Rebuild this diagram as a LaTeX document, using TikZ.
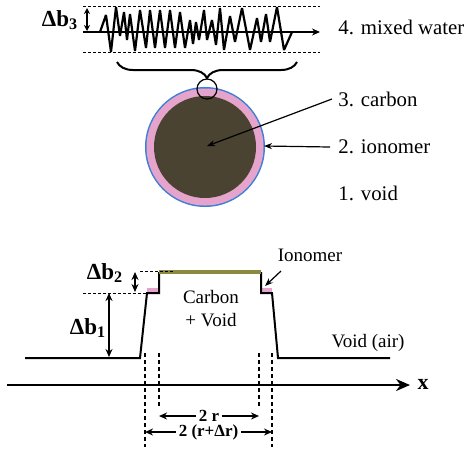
\documentclass[tikz,border=0pt]{standalone}
\usepackage{fontspec}
\setmainfont{Liberation Serif}
\usepackage{xcolor}
\usepackage{tikz}
\usetikzlibrary{arrows.meta, calc, decorations.pathreplacing}

\definecolor{carbonbrown}{HTML}{4A4331}
\definecolor{ionpink}{HTML}{E6A4CC}
\definecolor{voidblue}{HTML}{3F7FD4}
\definecolor{olivebar}{HTML}{8C8A3E}

\tikzset{
  lbl/.style={font=\fontsize{10.4}{12}\selectfont, anchor=west, inner sep=0pt},
  smalllbl/.style={font=\fontsize{9.5}{11.5}\selectfont, inner sep=0pt, align=center},
  deltalbl/.style={font=\fontsize{11.5}{13}\selectfont\bfseries, inner sep=0pt},
  dimlbl/.style={font=\fontsize{8.5}{10}\selectfont\bfseries, fill=white, inner sep=1.5pt},
  guide/.style={dash pattern=on 1.5pt off 1pt, line width=0.5pt},
  vguide/.style={dash pattern=on 2pt off 1.5pt, line width=0.6pt},
  profile/.style={line width=1pt},
  dimarrow/.style={{Stealth[length=4pt,width=3.5pt]}-{Stealth[length=4pt,width=3.5pt]}, line width=0.8pt},
  pointer/.style={-{Stealth[length=4pt,width=3pt]}, line width=0.6pt},
}

\begin{document}
\begin{tikzpicture}[x=0.5pt,y=-0.5pt]
  \useasboundingbox (0,0) rectangle (474,450);

  \draw[guide] (83,6) -- (320,6);
  \draw[guide] (83,52) -- (320,52);
  \draw[-{Stealth[length=4pt,width=3.5pt]}, line width=1pt] (83,32) -- (320,32);
  \draw[line width=1.1pt, line join=miter, miter limit=3] plot coordinates {
    (100,32) (106,15) (111,52) (116,7) (120,36) (124,12) (127,40) (130,14)
    (135,51) (140,10) (146,48) (150,10) (155,48) (160,10) (165,48) (170,10)
    (175,48) (180,12) (185,48) (190,20) (193,44) (196,22) (199,40) (204,10)
    (207,40) (212,20) (216,45) (220,8) (224,50) (230,16) (235,42) (242,8)
    (250,50) (257,18) (261,42) (266,14) (270,42) (277,7) (284,50) (292,32)};
  \draw[dimarrow, {Stealth[length=3pt,width=3pt]}-{Stealth[length=3pt,width=3pt]}] (87,8) -- (87,31);
  \node[deltalbl] (db3) at (60,20) {Δb\textsubscript{3}};
  \node[lbl] (mixed) at (338,27) {4. mixed water};

  \draw[line width=1pt, decorate, decoration={brace, amplitude=8pt}] (297,62) -- (117,62);

  \fill[voidblue] (205,147) circle (60);
  \fill[ionpink] (205,147) circle (58.5);
  \fill[carbonbrown] (205,147) circle (51);
  \node[circle, draw, line width=0.6pt, minimum size=10pt, inner sep=0pt] (zoomc) at (207,89) {};
  \coordinate (ctr) at (207,146);
  \coordinate (rim) at (264,146);

  \node[lbl] (carbon) at (338,99) {3. carbon};
  \node[lbl] (ionomer) at (338,147) {2. ionomer};
  \node[lbl] (void) at (338,193) {1. void};
  \draw[pointer] ($(carbon.west)+(-6,0)$) -- (ctr);
  \draw[pointer] ($(ionomer.west)+(-8,0)$) -- (rim);

  \coordinate (l0) at (25,358);
  \coordinate (l1) at (140,358);
  \coordinate (l2) at (147,293);
  \coordinate (r2) at (272,293);
  \coordinate (r1) at (278,358);
  \coordinate (r0) at (390,358);
  \fill[ionpink] (147,288) rectangle (159,294);
  \fill[ionpink] (261,288) rectangle (272,294);
  \draw[profile] (l0) -- (l1) -- (l2) -- (159,293) -- (159,272);
  \draw[profile] (261,272) -- (261,293) -- (r2) -- (r1) -- (r0);
  \draw[olivebar, line width=2pt] (159,272) -- (261,272);

  \draw[guide] (83,293) -- (147,293);
  \draw[guide] (140,271) -- (175,271);
  \draw[dimarrow] (135,272) -- (135,292);
  \draw[dimarrow] (109,293) -- (109,357);
  \node[deltalbl] (db2) at (105,273) {Δb\textsubscript{2}};
  \node[deltalbl] (db1) at (88,328) {Δb\textsubscript{1}};

  \node[smalllbl] (cv) at (211,309) {Carbon\\+ Void};
  \node[smalllbl] (ionlbl) at (310,255) {Ionomer};
  \node[smalllbl] (air) at (368,343) {Void (air)};
  \draw[pointer] (281,271) -- (265,286);

  \draw[-{Stealth[length=7pt,width=6pt]}, line width=1.4pt] (7,385) -- (410,385);
  \node[font=\fontsize{11}{13}\selectfont\bfseries, inner sep=0pt] (xlbl) at (423,384) {x};

  \draw[vguide] (145,353) -- (145,447);
  \draw[vguide] (159,353) -- (159,408);
  \draw[vguide] (259,353) -- (259,408);
  \draw[vguide] (272,353) -- (272,447);
  \draw[dimarrow] (159,416) -- node[dimlbl] {2 r} (259,416);
  \draw[dimarrow] (145,432) -- node[dimlbl] {2 (r+Δr)} (272,432);
\end{tikzpicture}
\end{document}
